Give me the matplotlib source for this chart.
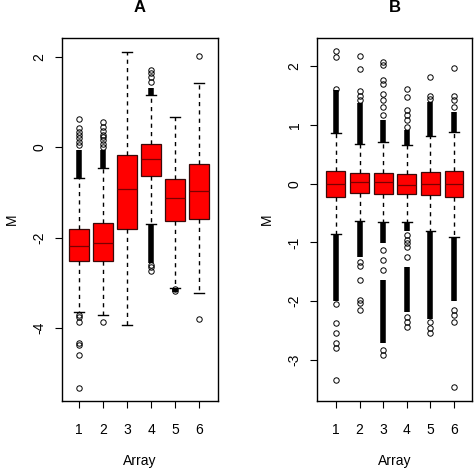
import matplotlib
matplotlib.use("Agg")
import matplotlib.pyplot as plt

plt.rcParams['font.family'] = ['Liberation Sans', 'DejaVu Sans']

arrays = [1, 2, 3, 4, 5, 6]

# panel A: median, q1, q3, lower whisker, upper whisker
a_med = [-2.18, -2.13, -0.93, -0.27, -1.13, -0.96]
a_q1 = [-2.53, -2.51, -1.82, -0.64, -1.64, -1.60]
a_q3 = [-1.80, -1.67, -0.18, 0.07, -0.71, -0.36]
a_lo = [-3.64, -3.71, -3.93, -1.71, -3.11, -3.22]
a_hi = [-0.67, -0.47, 2.10, 1.16, 0.67, 1.42]
a_fliers = [
    [0.62, 0.42, 0.33, 0.27, 0.20, 0.11, 0.04, -3.71, -3.76, -3.87, -4.34, -4.38, -4.60, -5.33],
    [0.55, 0.45, 0.37, 0.28, 0.22, 0.15, 0.08, 0.0, -3.87],
    [],
    [1.45, 1.55, 1.65, 1.72, -2.60, -2.66, -2.73],
    [-3.14, -3.18],
    [2.02, -3.80],
]
# runs of overlapping outliers (drawn as solid black)
a_dense = [
    [(-0.67, -0.07)],
    [(-0.47, -0.05)],
    [],
    [(1.16, 1.32), (-1.71, -2.56)],
    [(-3.11, -3.20)],
    [],
]

# panel B
b_med = [0.0, 0.02, 0.02, -0.02, 0.0, 0.0]
b_q1 = [-0.22, -0.16, -0.18, -0.17, -0.20, -0.22]
b_q3 = [0.21, 0.18, 0.19, 0.17, 0.20, 0.22]
b_lo = [-0.85, -0.64, -0.65, -0.65, -0.80, -0.90]
b_hi = [0.86, 0.67, 0.71, 0.65, 0.81, 0.88]
b_fliers = [
    [1.62, 2.16, 2.26, -2.05, -2.38, -2.55, -2.72, -2.80, -3.35],
    [1.42, 1.50, 1.58, 1.95, 2.17, -1.34, -1.40, -1.64, -1.98, -2.03, -2.15],
    [1.17, 1.30, 1.42, 1.53, 1.69, 1.76, 2.02, 2.07, -1.13, -1.30, -1.47, -2.84, -2.92],
    [0.97, 1.09, 1.17, 1.25, 1.47, 1.62, -0.88, -0.96, -1.01, -1.08, -1.25, -2.27, -2.35, -2.44],
    [1.44, 1.50, 1.81, -2.35, -2.45, -2.55],
    [1.31, 1.42, 1.50, 1.97, -2.15, -2.23, -2.36, -3.46],
]
b_dense = [
    [(0.86, 1.59), (-0.85, -1.99)],
    [(0.67, 1.37), (-0.64, -1.25)],
    [(0.71, 1.08), (-0.65, -1.01), (-1.64, -2.72)],
    [(0.65, 0.91), (-0.65, -0.80), (-1.42, -2.19)],
    [(0.81, 1.39), (-0.80, -2.30)],
    [(0.88, 1.22), (-0.90, -2.00)],
]


def make_stats(med, q1, q3, lo, hi, fliers):
    stats = []
    for i in range(len(med)):
        stats.append({'med': med[i], 'q1': q1[i], 'q3': q3[i],
                      'whislo': lo[i], 'whishi': hi[i], 'fliers': fliers[i]})
    return stats


def draw_panel(ax, stats, dense, title, yticks, ylim, xlim):
    for i, runs in enumerate(dense):
        for lo, hi in runs:
            ax.vlines(arrays[i], lo, hi, color='black', lw=4.0, zorder=1)
    ax.bxp(stats, positions=arrays, widths=0.8, capwidths=0.4, patch_artist=True,
           boxprops=dict(facecolor='#ff0000', edgecolor='#3a0a0a', lw=0.9),
           medianprops=dict(color='#7a0000', lw=0.9),
           whiskerprops=dict(color='black', lw=1.0, linestyle=(0, (3, 3))),
           capprops=dict(color='black', lw=1.0),
           flierprops=dict(marker='o', markerfacecolor='none', markeredgecolor='black',
                           markersize=3.9, markeredgewidth=0.7))
    ax.set_xlim(xlim)
    ax.set_ylim(ylim)
    ax.set_xticks(arrays)
    ax.set_xticklabels([str(a) for a in arrays])
    ax.set_yticks(yticks)
    ax.set_yticklabels([str(t) for t in yticks], rotation=90, va='center')
    ax.tick_params(axis='y', length=5, width=0.8, labelsize=10, pad=6)
    ax.tick_params(axis='x', length=5, width=0.8, labelsize=10, pad=11)
    for s in ax.spines.values():
        s.set_linewidth(1.0)
    ax.set_xlabel('Array', fontsize=10, labelpad=12)
    ax.set_ylabel('M', fontsize=10, labelpad=10)
    ax.set_title(title, fontsize=12, fontweight='bold', pad=19)


fig = plt.figure(figsize=(4.74, 4.68), dpi=100)
ax1 = fig.add_axes([62 / 474, 67 / 468, 156 / 474, 363 / 468])
ax2 = fig.add_axes([317 / 474, 67 / 468, 155 / 474, 363 / 468])

draw_panel(ax1, make_stats(a_med, a_q1, a_q3, a_lo, a_hi, a_fliers), a_dense,
           'A', [-4, -2, 0, 2], (-5.62, 2.42), (0.29, 6.79))
draw_panel(ax2, make_stats(b_med, b_q1, b_q3, b_lo, b_hi, b_fliers), b_dense,
           'B', [-3, -2, -1, 0, 1, 2], (-3.70, 2.48), (0.2, 6.76))

fig.savefig('out.png', dpi=100)
